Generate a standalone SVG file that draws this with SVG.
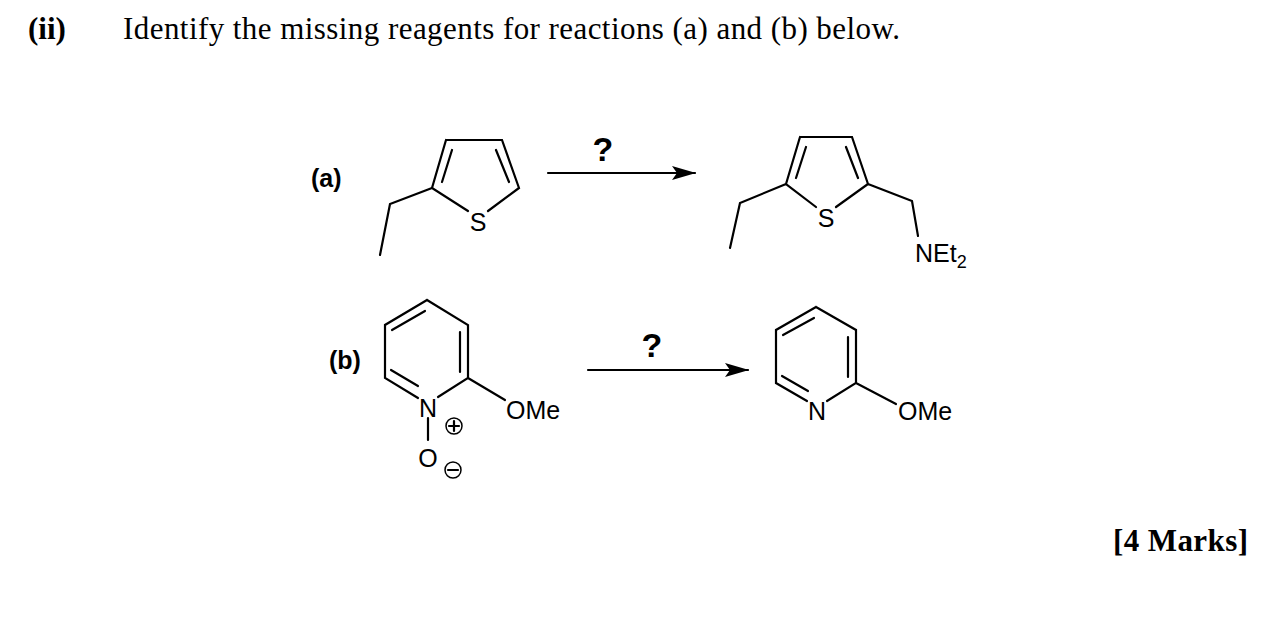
<svg xmlns="http://www.w3.org/2000/svg" width="1285" height="617" viewBox="0 0 1285 617">
<style>
.b{stroke:#000;stroke-width:2.2;fill:none;stroke-linecap:round}
.t{font-family:"Liberation Serif",serif;font-size:31px}
.s{font-family:"Liberation Sans",sans-serif;font-size:25px}
.q{font-family:"Liberation Sans",sans-serif;font-size:34px;font-weight:bold}
.c{stroke:#000;stroke-width:1.5;fill:#fff}
</style>
<defs><marker id="ah" markerWidth="24" markerHeight="14" refX="23" refY="7" orient="auto" markerUnits="userSpaceOnUse"><path d="M0,0 L24,7 L0,14 L5,7 z" fill="#000"/></marker></defs>
<rect width="1285" height="617" fill="#fff"/>
<text class="t" x="28" y="39" font-weight="bold">(ii)</text>
<text class="t" x="123" y="39" textLength="777">Identify the missing reagents for reactions (a) and (b) below.</text>
<text class="t" x="1113" y="551" font-weight="bold" textLength="135">[4 Marks]</text>
<g id="label-a"><text class="s" x="311" y="187" font-weight="bold">(a)</text></g>
<g id="label-b"><text class="s" x="329" y="369" font-weight="bold">(b)</text></g>
<g id="reactant-a">
<path class="b" d="M446,140 L502,140 L519,188 L488,211 M468,211 L432,188 L446,140 M452,150 L442,182 M496,150 L509,182 M432,188 L390,204 L380,255"/>
<text class="s" x="478" y="231" text-anchor="middle">S</text>
</g>
<g id="product-a">
<path class="b" d="M800,137 L852,137 L868,184 L836,207 M816,207 L786,184 L800,137 M806,147 L796,178 M846,147 L858,178 M786,184 L740,203 L730,248 M868,184 L912,201 L918,236"/>
<text class="s" x="826" y="227" text-anchor="middle">S</text>
<text class="s" x="915" y="262">NEt<tspan font-size="18" dy="6">2</tspan></text>
</g>
<g id="reactant-b">
<path class="b" d="M427,300 L468,325 L468,378 L438,397 M418,398 L385,378 L385,325 L427,300 M460,332 L460,372 M392,330 L425,311 M391,370 L418,386 M468,378 L505,400 M428,418 L428,440"/>
<text class="s" x="428" y="417" text-anchor="middle">N</text>
<text class="s" x="428" y="467" text-anchor="middle">O</text>
<text class="s" x="506" y="419">OMe</text>
<circle class="c" cx="454" cy="426" r="8"/><path class="b" d="M449,426 H459 M454,421 V431" stroke-width="1.5"/>
<circle class="c" cx="453" cy="470" r="8"/><path class="b" d="M448,470 H458" stroke-width="1.5"/>
</g>
<g id="product-b">
<path class="b" d="M816,307 L856,330 L856,383 L827,401 M807,401 L776,383 L776,330 L816,307 M848,337 L848,377 M783,335 L814,318 M782,376 L808,391 M856,383 L896,404"/>
<text class="s" x="817" y="420" text-anchor="middle">N</text>
<text class="s" x="898" y="420">OMe</text>
</g>
<g id="connectors">
<line class="b" x1="548" y1="173" x2="695" y2="173" marker-end="url(#ah)"/>
<text class="q" x="603" y="161" text-anchor="middle">?</text>
<line class="b" x1="588" y1="370" x2="748" y2="370" marker-end="url(#ah)"/>
<text class="q" x="652" y="357" text-anchor="middle">?</text>
</g>
</svg>
